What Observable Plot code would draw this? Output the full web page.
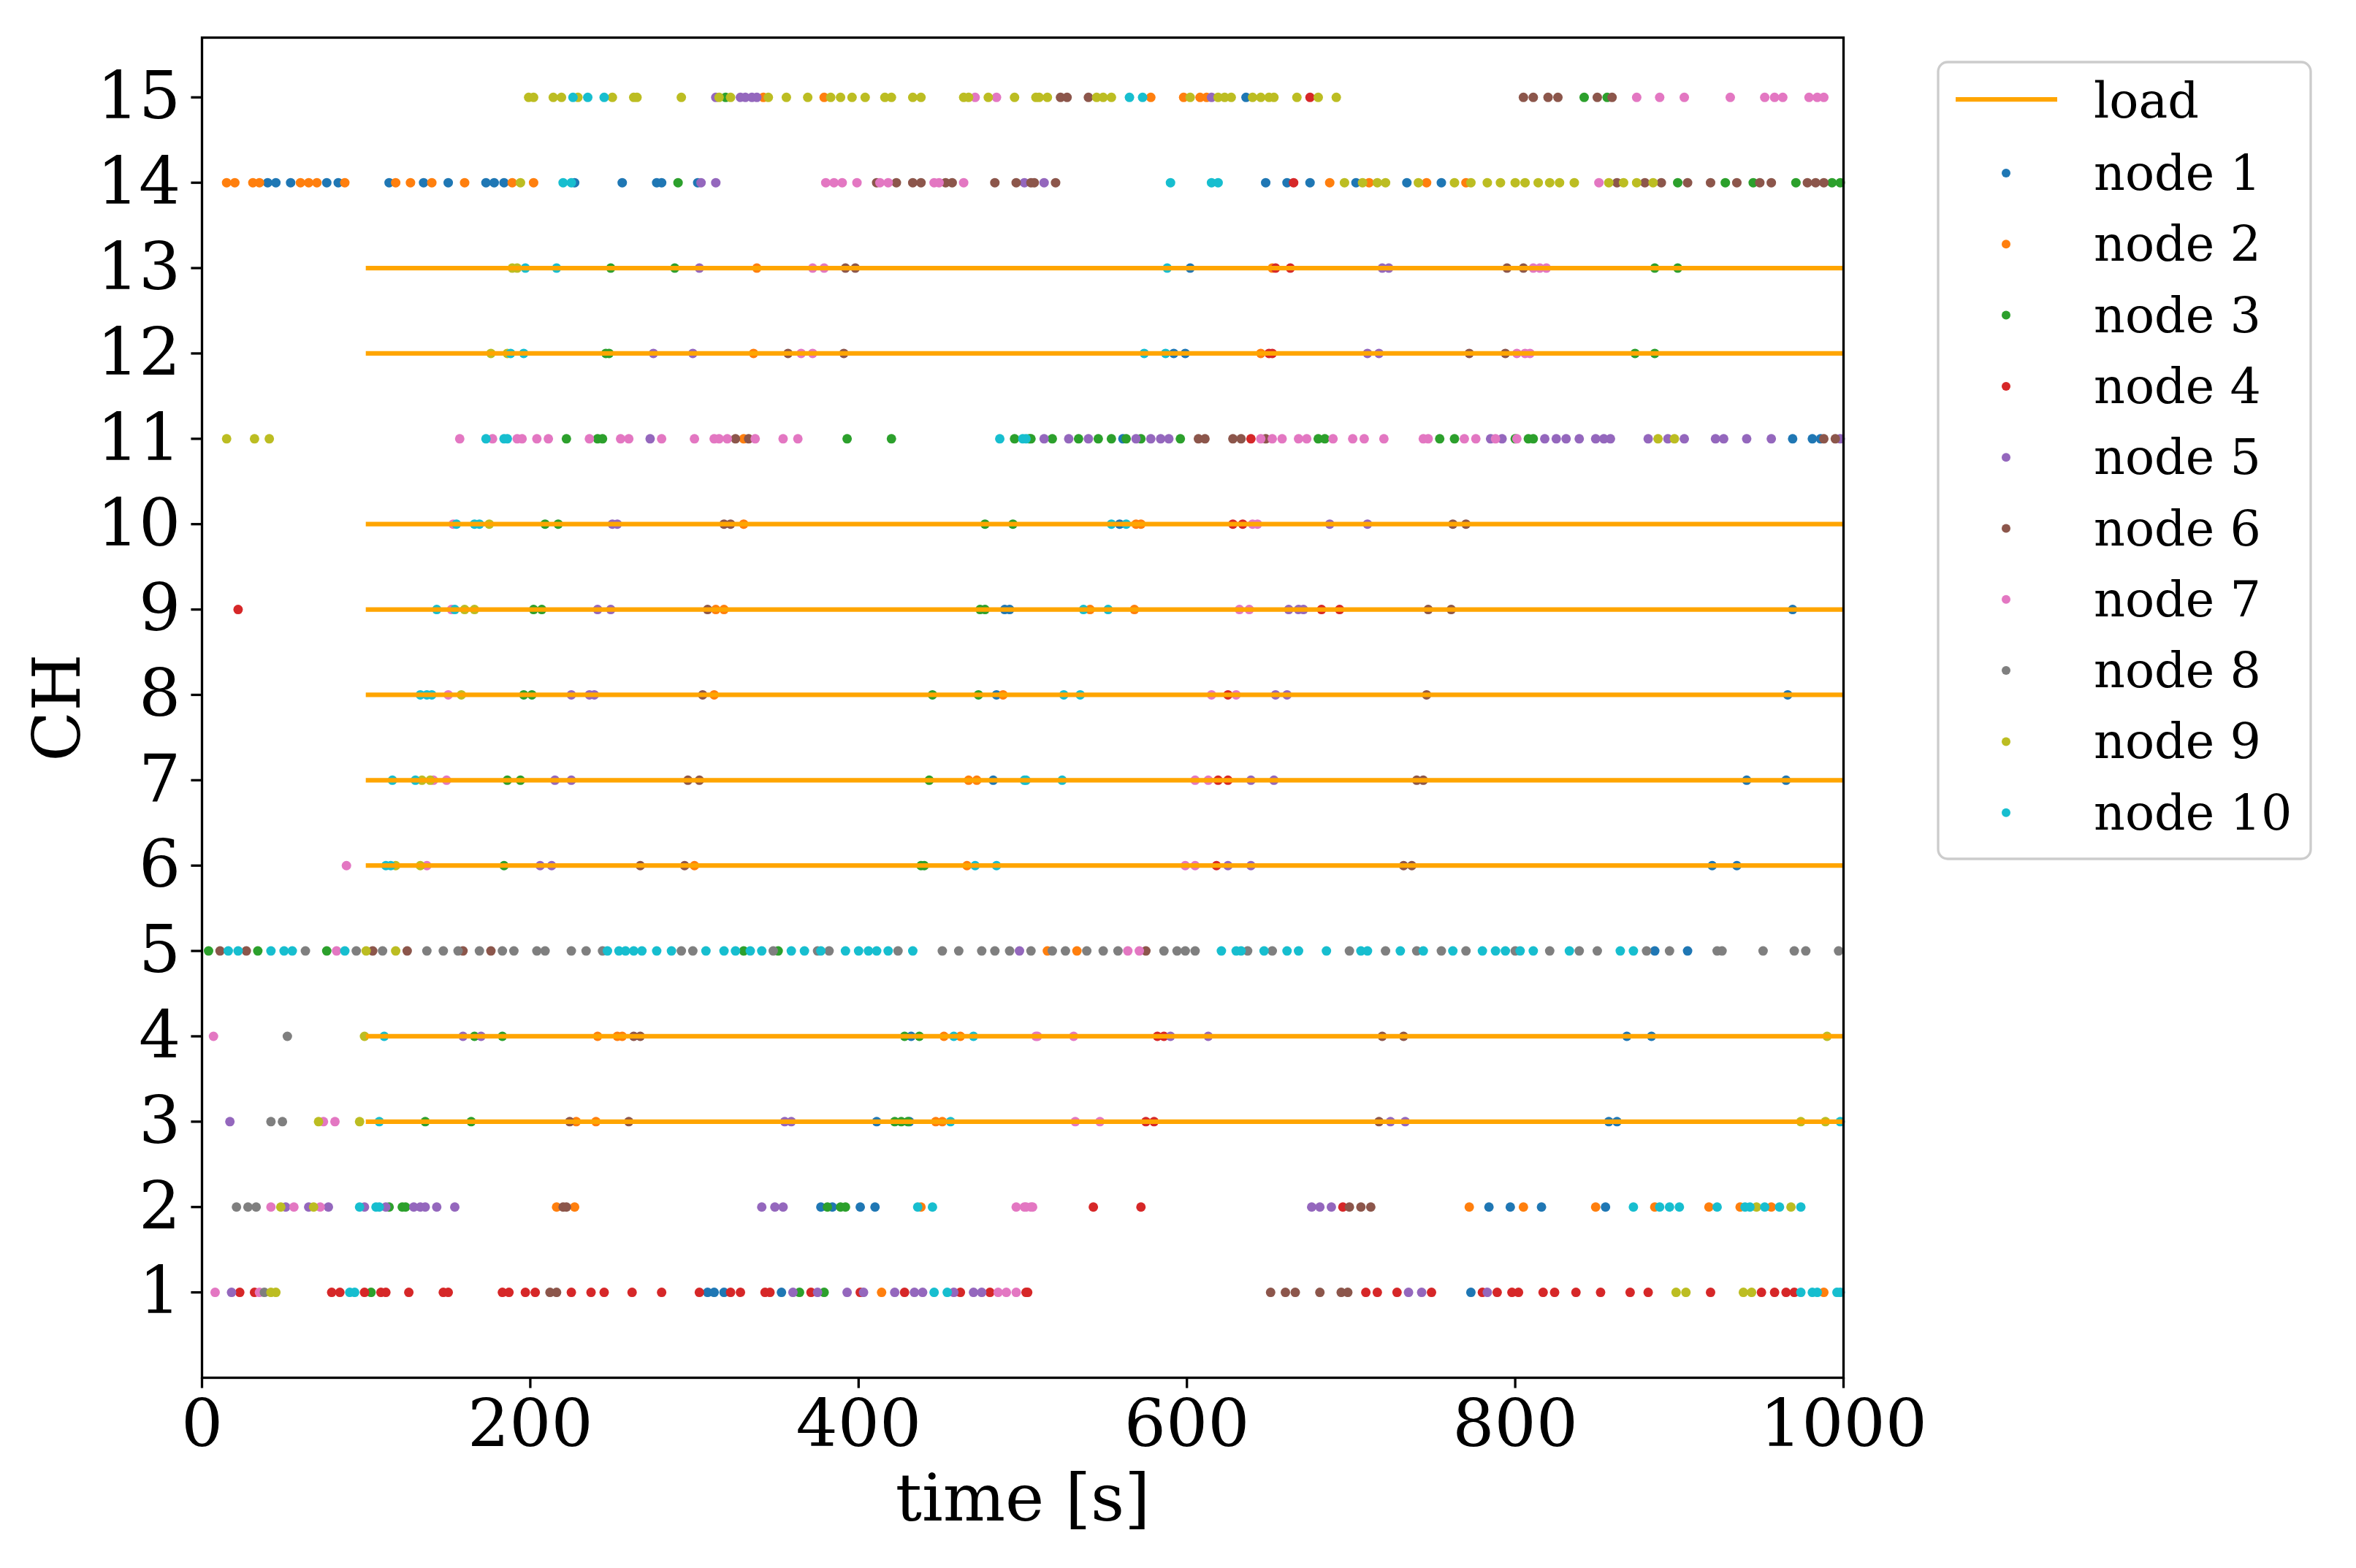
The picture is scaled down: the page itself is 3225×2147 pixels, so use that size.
<!DOCTYPE html>
<html>
<head>
<meta charset="utf-8">
<script src="https://cdn.jsdelivr.net/npm/d3@7"></script>
<script src="https://cdn.jsdelivr.net/npm/@observablehq/plot@0.6"></script>
<style>
  html, body { margin: 0; padding: 0; background: white; }
  #wrap { position: relative; width: 3225px; height: 2147px; }
  #legend { position: absolute; left: 0; top: 0; pointer-events: none; }
</style>
</head>
<body>
<div id="wrap"></div>
<script>
// ---- data (time [s], node) per channel ----
const ch1 = [[8,7],[18,5],[23,4],[32,4],[35,7],[38,8],[42,9],[45,9],[79,4],[84,4],[90,10],[93,10],[99,4],[103,3],[109,4],[112,4],[126,4],[147,4],[150,4],[183,4],[187,4],[197,4],[203,4],[212,6],[216,6],[225,4],[237,4],[245,4],[262,4],[280,4],[303,4],[308,1],[312,1],[318,1],[322,4],[328,4],[343,4],[346,4],[353,1],[360,5],[364,3],[371,4],[375,5],[379,3],[393,5],[401,4],[403,5],[414,2],[422,5],[428,4],[434,5],[439,5],[446,10],[454,10],[458,5],[462,4],[470,5],[475,5],[480,4],[485,7],[490,7],[496,7],[502,4],[503,4],[651,6],[660,6],[666,6],[681,6],[694,6],[698,6],[709,4],[716,4],[728,4],[735,5],[743,5],[749,4],[773,1],[780,4],[783,5],[789,4],[798,4],[802,4],[817,4],[824,4],[837,4],[852,4],[870,4],[881,4],[898,9],[904,9],[919,4],[939,9],[944,9],[950,4],[958,4],[965,4],[970,4],[974,10],[981,10],[984,10],[988,2],[996,10],[998,10]];
const ch2 = [[21,8],[28,8],[33,8],[42,7],[48,9],[51,5],[56,7],[65,5],[68,9],[72,7],[77,5],[96,10],[99,5],[106,10],[108,10],[112,5],[114,3],[122,3],[124,3],[129,5],[133,5],[136,5],[143,5],[154,5],[216,2],[220,6],[222,6],[227,2],[341,5],[349,5],[354,5],[377,1],[381,3],[384,1],[389,3],[392,3],[401,1],[410,1],[436,10],[438,2],[445,10],[496,7],[501,7],[505,7],[502,7],[506,7],[543,4],[572,4],[676,5],[681,5],[688,5],[695,4],[699,6],[706,6],[712,6],[772,2],[784,1],[797,1],[805,2],[816,1],[849,2],[855,1],[872,10],[885,2],[888,10],[894,10],[900,10],[918,2],[923,10],[937,2],[940,10],[943,10],[947,9],[952,10],[956,2],[961,10],[968,9],[974,10]];
const ch3 = [[17,5],[42,8],[49,8],[71,9],[74,7],[81,7],[96,9],[108,10],[136,3],[164,3],[224,6],[228,2],[240,2],[260,6],[355,5],[359,5],[411,1],[422,3],[426,3],[430,3],[431,1],[447,2],[451,2],[456,10],[532,7],[547,7],[575,4],[580,4],[717,6],[724,5],[733,5],[857,1],[862,1],[974,9],[989,9],[998,10]];
const ch4 = [[7,7],[52,8],[99,9],[111,10],[159,5],[166,3],[170,5],[183,3],[241,2],[253,2],[256,2],[263,6],[267,6],[428,3],[432,1],[437,3],[452,2],[458,10],[462,2],[470,10],[508,7],[509,7],[531,7],[582,4],[586,4],[590,5],[613,5],[719,6],[732,6],[868,1],[883,1],[990,9]];
const ch5 = [[4,3],[11,6],[16,10],[22,10],[27,6],[34,3],[42,10],[50,10],[55,10],[63,8],[76,3],[82,7],[87,10],[94,8],[100,9],[104,6],[110,8],[118,9],[125,6],[137,8],[147,8],[156,8],[159,6],[169,8],[176,6],[183,8],[190,8],[204,8],[209,8],[225,8],[234,8],[244,8],[247,10],[254,10],[258,10],[263,10],[268,10],[277,10],[286,10],[292,8],[299,8],[307,10],[318,10],[325,10],[330,3],[334,10],[341,10],[348,8],[351,3],[359,10],[367,10],[375,8],[377,10],[382,8],[392,10],[400,10],[406,10],[411,10],[418,10],[424,8],[433,10],[451,8],[461,8],[475,8],[483,8],[492,8],[498,5],[505,8],[515,2],[518,8],[526,8],[533,2],[539,8],[549,8],[558,8],[564,7],[571,7],[575,6],[586,8],[594,8],[599,8],[605,8],[621,10],[630,10],[633,10],[637,8],[647,10],[652,8],[661,10],[668,10],[685,10],[699,8],[706,10],[710,10],[721,8],[730,10],[740,8],[744,10],[755,8],[762,10],[770,8],[780,10],[788,10],[794,10],[800,8],[803,10],[811,10],[821,8],[833,10],[839,8],[850,8],[864,10],[872,10],[880,8],[885,1],[894,8],[905,1],[923,8],[926,8],[951,8],[970,8],[977,8],[997,8]];
const ch6 = [[88,7],[112,10],[115,10],[118,9],[133,9],[137,7],[184,3],[206,5],[213,5],[267,6],[294,6],[300,2],[438,3],[440,3],[466,2],[471,10],[484,10],[599,7],[605,7],[618,4],[625,5],[639,5],[732,6],[737,6],[920,1],[935,1]];
const ch7 = [[116,10],[130,10],[134,9],[139,9],[141,7],[149,7],[186,3],[194,3],[215,5],[225,5],[296,6],[303,6],[443,3],[467,2],[472,2],[482,1],[501,10],[502,10],[524,10],[605,7],[613,7],[619,4],[625,4],[639,5],[653,5],[740,6],[744,6],[941,1],[965,1]];
const ch8 = [[133,10],[137,10],[140,10],[150,7],[158,9],[196,3],[201,3],[225,5],[236,5],[239,5],[305,6],[312,2],[445,3],[473,3],[484,1],[488,2],[525,10],[535,10],[615,7],[625,4],[630,7],[654,5],[661,5],[746,6],[966,1]];
const ch9 = [[22,4],[143,10],[152,7],[154,10],[160,9],[166,9],[202,3],[207,3],[241,5],[249,5],[308,6],[313,2],[318,2],[474,3],[477,3],[489,1],[492,1],[537,10],[541,2],[552,10],[568,2],[632,7],[638,7],[662,5],[668,5],[671,5],[682,4],[693,4],[747,6],[761,6],[969,1]];
const ch10 = [[153,7],[155,10],[166,10],[169,10],[175,9],[209,3],[217,3],[250,5],[253,5],[318,6],[322,6],[330,2],[477,3],[494,3],[554,10],[559,1],[563,10],[569,2],[572,2],[628,4],[634,4],[640,7],[643,7],[687,5],[710,5],[762,6],[770,6]];
const ch11 = [[15,9],[32,9],[41,9],[157,7],[173,10],[177,7],[184,10],[186,10],[192,7],[195,7],[204,7],[211,7],[222,3],[236,7],[241,3],[244,3],[255,7],[260,7],[273,5],[280,7],[300,7],[312,7],[315,7],[320,7],[325,6],[330,2],[333,6],[337,7],[354,7],[363,7],[393,3],[420,3],[486,10],[495,3],[500,10],[505,3],[502,10],[504,3],[513,5],[518,3],[528,5],[534,3],[540,5],[546,3],[554,3],[561,1],[563,3],[569,5],[572,3],[578,5],[584,5],[589,5],[596,3],[607,6],[611,6],[628,6],[633,6],[639,4],[645,7],[648,6],[652,7],[658,7],[668,7],[673,7],[680,3],[684,3],[689,7],[701,7],[708,7],[720,7],[744,7],[747,7],[754,3],[763,3],[769,7],[776,7],[785,5],[788,7],[792,5],[800,3],[801,7],[808,3],[811,3],[818,5],[825,5],[831,5],[839,5],[849,5],[854,5],[858,5],[881,5],[887,9],[893,5],[897,9],[903,5],[922,5],[927,5],[941,5],[956,5],[969,1],[981,1],[986,1],[988,6],[995,6],[998,5]];
const ch12 = [[176,9],[186,9],[188,10],[196,10],[246,3],[248,3],[275,5],[299,5],[336,2],[357,6],[365,7],[372,7],[391,6],[574,10],[587,10],[592,1],[599,1],[645,2],[650,4],[652,4],[710,5],[717,5],[772,6],[794,6],[801,7],[806,7],[809,7],[873,3],[885,3]];
const ch13 = [[189,9],[192,9],[197,10],[216,10],[249,3],[288,3],[303,5],[338,2],[372,7],[379,7],[392,6],[398,6],[588,10],[602,1],[652,2],[654,4],[663,4],[719,5],[723,5],[795,6],[805,6],[811,7],[815,7],[819,7],[885,3],[899,3]];
const ch14 = [[15,2],[20,2],[31,2],[35,2],[40,1],[45,1],[54,1],[60,2],[65,2],[70,2],[76,1],[83,1],[87,2],[114,1],[118,2],[127,2],[135,1],[140,2],[150,1],[160,2],[173,1],[178,1],[184,1],[189,2],[194,9],[202,2],[220,10],[225,10],[227,1],[256,1],[277,1],[280,1],[290,3],[302,1],[304,5],[313,5],[380,7],[385,7],[390,7],[399,7],[411,6],[413,7],[418,7],[423,6],[433,6],[438,6],[446,7],[449,7],[453,6],[457,6],[464,7],[483,6],[496,6],[501,5],[505,6],[507,6],[513,5],[520,6],[590,10],[615,10],[619,10],[648,1],[661,1],[665,4],[675,1],[687,2],[696,9],[703,1],[707,9],[711,2],[716,9],[721,9],[734,1],[741,9],[746,2],[755,1],[763,9],[770,2],[773,9],[783,9],[791,9],[800,9],[806,9],[814,9],[821,9],[827,9],[836,9],[851,7],[857,9],[862,6],[866,9],[874,9],[879,6],[884,9],[889,6],[899,3],[905,6],[919,6],[928,3],[935,6],[945,3],[949,6],[956,6],[971,3],[978,6],[983,6],[988,6],[993,3],[998,3]];
const ch15 = [[199,9],[202,9],[214,9],[219,9],[226,10],[229,9],[235,10],[245,10],[250,9],[263,9],[265,9],[292,9],[313,5],[315,9],[319,3],[322,9],[328,5],[331,5],[335,5],[338,5],[342,2],[345,9],[356,9],[369,9],[379,2],[383,9],[389,9],[396,9],[404,9],[416,9],[420,9],[433,9],[438,9],[464,9],[467,9],[471,7],[479,9],[484,7],[495,9],[508,9],[510,9],[515,9],[523,6],[527,6],[540,6],[545,9],[549,9],[554,9],[565,10],[573,10],[578,2],[598,2],[602,9],[608,2],[612,2],[615,5],[619,9],[623,9],[627,9],[636,1],[640,9],[645,9],[650,9],[653,9],[667,9],[675,4],[680,9],[691,9],[805,6],[811,6],[820,6],[826,6],[842,3],[850,6],[856,3],[859,6],[874,7],[888,7],[903,7],[931,7],[952,7],[958,7],[963,7],[979,7],[984,7],[988,7]];

const loadChannels = [3, 4, 6, 7, 8, 9, 10, 12, 13];
const loadStart = 100;
const loadEnd = 1000;

const nodeNames = ["node 1","node 2","node 3","node 4","node 5","node 6","node 7","node 8","node 9","node 10"];
const nodeColors = ["#1f77b4","#ff7f0e","#2ca02c","#d62728","#9467bd","#8c564b","#e377c2","#7f7f7f","#bcbd22","#17becf"];
const loadColor = "#ffa500";
const xTicks = [0, 200, 400, 600, 800, 1000];
const yTicks = [1,2,3,4,5,6,7,8,9,10,11,12,13,14,15];
const xLabel = "time [s]";
const yLabel = "CH";
const loadLabel = "load";

// ---- build table ----
const channels = [ch1,ch2,ch3,ch4,ch5,ch6,ch7,ch8,ch9,ch10,ch11,ch12,ch13,ch14,ch15];
const rows = [];
channels.forEach((arr, i) => arr.forEach(([t, n]) => rows.push({t, ch: i + 1, node: nodeNames[n - 1], k: n})));
rows.sort((a, b) => a.k - b.k);

const FONT = "'DejaVu Serif', 'Liberation Serif', serif";
const FS = 90;

const chart = Plot.plot({
  width: 3225,
  height: 2147,
  marginLeft: 276,
  marginRight: 702,
  marginTop: 51,
  marginBottom: 261,
  x: {domain: [0, 1000]},
  y: {domain: [0, 15.7]},
  color: {domain: nodeNames, range: nodeColors},
  style: {fontFamily: FONT, fontSize: FS + "px", background: "white", color: "black"},
  marks: [
    Plot.dot(rows, {x: "t", y: "ch", fill: "node", r: 6.5}),
    Plot.ruleY(loadChannels, {y: d => d, x1: () => loadStart, x2: () => loadEnd, stroke: loadColor, strokeWidth: 6.25}),
    Plot.frame({stroke: "black", strokeWidth: 3.3}),
    Plot.axisX({ticks: xTicks, tickFormat: d => String(d), tickSize: 14.6, tickPadding: 14.6, strokeWidth: 3.3, fontSize: FS, label: null}),
    Plot.axisY({ticks: yTicks, tickFormat: d => String(d), tickSize: 14.6, tickPadding: 14.6, strokeWidth: 3.3, fontSize: FS, label: null}),
    Plot.text([xLabel], {frameAnchor: "bottom", textAnchor: "middle", lineAnchor: "middle", dy: 167, text: d => d, fontSize: FS, fill: "black"}),
    Plot.text([yLabel], {frameAnchor: "left", textAnchor: "middle", lineAnchor: "middle", dx: -196, rotate: -90, text: d => d, fontSize: FS, fill: "black"})
  ]
});
const wrap = document.getElementById("wrap");
wrap.appendChild(chart);

// ---- legend ----
const LFS = 66.7;
const legend = d3.create("svg")
  .attr("id", "legend")
  .attr("width", 3225)
  .attr("height", 2147)
  .style("font-family", FONT);
legend.append("rect")
  .attr("x", 2653).attr("y", 85).attr("width", 510).attr("height", 1091)
  .attr("rx", 13).attr("ry", 13)
  .attr("fill", "white").attr("fill-opacity", 0.8)
  .attr("stroke", "#cccccc").attr("stroke-width", 3.3);
legend.append("line")
  .attr("x1", 2677).attr("x2", 2816).attr("y1", 136).attr("y2", 136)
  .attr("stroke", loadColor).attr("stroke-width", 6.25);
legend.append("text")
  .attr("x", 2866).attr("y", 136 + 25)
  .attr("font-size", LFS).attr("fill", "black")
  .text(loadLabel);
nodeNames.forEach((name, i) => {
  const cy = 237 + 97.3 * i;
  legend.append("circle").attr("cx", 2746).attr("cy", cy).attr("r", 6).attr("fill", nodeColors[i]);
  legend.append("text").attr("x", 2866).attr("y", cy + 23)
    .attr("font-size", LFS).attr("fill", "black").text(name);
});
wrap.appendChild(legend.node());
</script>
</body>
</html>
